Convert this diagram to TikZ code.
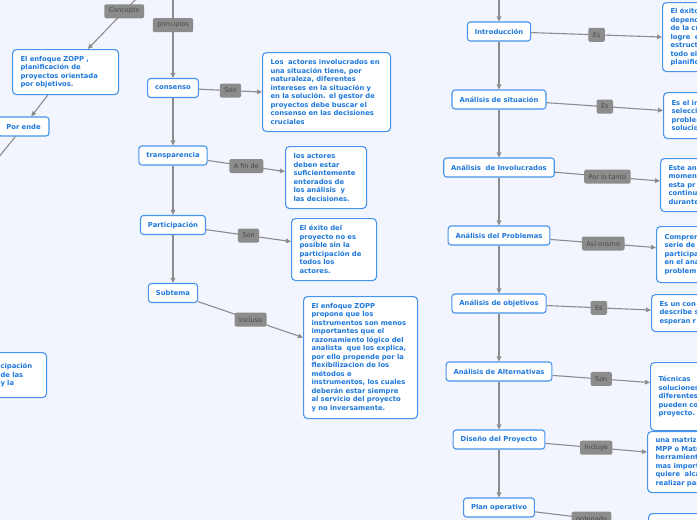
\documentclass[tikz,border=0pt]{standalone}
\usepackage{fontspec}
\setmainfont{DejaVu Sans}
\usepackage{xcolor}
\usetikzlibrary{arrows.meta,positioning}

\definecolor{fondo}{HTML}{F2F5FD}
\definecolor{azul}{HTML}{1E78DC}
\definecolor{borde}{HTML}{4694EC}
\definecolor{gris}{HTML}{8C8C8C}
\definecolor{grisTxt}{HTML}{474747}

\tikzset{
  tema/.style={draw=borde,fill=white,rounded corners=3pt,line width=1.1pt,text=azul,
    font=\bfseries\fontsize{6.8}{8}\selectfont,inner xsep=7.5pt,minimum height=19pt},
  nota/.style={draw=borde,fill=white,rounded corners=4pt,line width=1.1pt,text=azul,
    font=\bfseries\fontsize{6.8}{8.5}\selectfont,align=left,anchor=north west,inner xsep=8pt,inner ysep=3pt},
  etiq/.style={fill=gris,rounded corners=2pt,text=grisTxt,font=\fontsize{6.5}{7}\selectfont,
    inner xsep=4.5pt,inner ysep=0pt,minimum height=14pt},
  enlace/.style={draw=gris,line width=1.1pt,-{Triangle[length=5pt,width=4.5pt]}},
  linea/.style={draw=gris,line width=1.1pt},
}

\begin{document}
\begin{tikzpicture}[x=1pt,y=-1pt]
\useasboundingbox (0,0) rectangle (697,520);
\clip (0,0) rectangle (697,520);
\fill[fondo] (0,0) rectangle (697,520);

% columna izquierda
\node[nota,text width=90pt,minimum height=45pt] (enfoque) at (12,49)
  {El enfoque ZOPP ,\\ planificación de\\ proyectos orientada\\ por objetivos.};
\node[tema,minimum width=51pt] (porende) at (23.5,126.5) {Por ende};
\node[nota,text width=36pt,minimum height=45pt,inner xsep=10pt] (nIzq) at (-10,352)
  {cipación\\ de las\\ y la};

\node[tema] (consenso) at (173,88) {consenso};
\node[tema] (transparencia) at (173,155.5) {transparencia};
\node[tema] (participacion) at (173,225) {Participación};
\node[tema] (subtema) at (173,293) {Subtema};

\node[nota,text width=112pt,minimum height=79pt] (nConsenso) at (262,52)
  {Los\ \ actores involucrados en\\ una situación tiene, por\\ naturaleza, diferentes\\ intereses en la situación y\\ en la solución. el gestor de\\ proyectos debe buscar el\\ consenso en las decisiones\\ cruciales};
\node[nota,text width=65pt,minimum height=62pt] (nTransp) at (285,146)
  {los actores\\ deben estar\\ suficientemente\\ enterados de\\ los análisis\ \ y\\ las decisiones.};
\node[nota,text width=69pt,minimum height=62pt] (nPartic) at (291,218)
  {El éxito del\\ proyecto no es\\ posible sin la\\ participación de\\ todos los\\ actores.};
\node[nota,text width=98pt,minimum height=122pt] (nSubtema) at (303,296)
  {El enfoque ZOPP\\ propone que los\\ instrumentos son menos\\ importantes que el\\ razonamiento lógico del\\ analista\ \ que los explica,\\ por ello propende por la\\ flexibilizacion de los\\ métodos e\\ instrumentos, los cuales\\ deberán estar siempre\\ al servicio del proyecto\\ y no inversamente.};

\coordinate (arribaIzq) at (137,-2);
\coordinate (arribaCen) at (173,-2);
\coordinate (fueraIzq) at (-10,168);

\draw[enlace] (arribaIzq) -- node[etiq,pos=0.26]{Concepto} (enfoque);
\draw[enlace] (enfoque) -- (porende);
\draw[linea] (porende) -- (fueraIzq);
\draw[enlace] (arribaCen) -- node[etiq,pos=0.34]{principios} (consenso);
\draw[enlace] (consenso) -- (transparencia);
\draw[enlace] (transparencia) -- (participacion);
\draw[enlace] (participacion) -- (subtema);
\draw[enlace] (consenso) -- node[etiq]{Son} (nConsenso.west);
\draw[enlace] (transparencia) -- node[etiq]{A fin de} ([yshift=6pt]nTransp.west);
\draw[enlace] (participacion) -- node[etiq]{Son} ([yshift=8pt]nPartic.west);
\draw[enlace] (subtema) -- node[etiq]{Incluso} ([yshift=20pt]nSubtema.west);

% columna derecha
\node[tema] (intro) at (499,31.5) {Introducción};
\node[tema] (situacion) at (499,99.5) {Análisis de situación};
\node[tema] (involucrados) at (499,167.5) {Análisis\ \ de Involucrados};
\node[tema] (problemas) at (499,235.5) {Análisis del Problemas};
\node[tema] (objetivos) at (499,303.5) {Análisis de objetivos};
\node[tema] (alternativas) at (499,371.5) {Análisis de Alternativas};
\node[tema] (diseno) at (499,439.5) {Diseño del Proyecto};
\node[tema] (planop) at (499,507.5) {Plan operativo};

\node[nota,text width=60pt,minimum height=69pt] (nIntro) at (662,2)
  {El éxito\\ depend\\ de la cr\\ logre\ \ e\\ estruct\\ todo el\\ planific};
\node[nota,text width=60pt,minimum height=46pt] (nSituacion) at (663,92)
  {Es el in\\ selecci\\ problem\\ solucio};
\node[nota,text width=60pt,minimum height=53pt] (nInvol) at (660,158)
  {Este an\\ momen\\ esta pr\\ continu\\ durante};
\node[nota,text width=60pt,minimum height=56pt] (nProblemas) at (656,226)
  {Compren\\ serie de\\ participa\\ en el ana\\ problem};
\node[nota,text width=60pt,minimum height=37pt] (nObjetivos) at (651,294)
  {Es un con\\ describe s\\ esperan r};
\node[nota,text width=60pt,minimum height=68pt] (nAltern) at (650,362)
  {Técnicas\\ soluciones\\ diferentes\\ pueden co\\ proyecto.};
\node[nota,text width=60pt,minimum height=61pt] (nDiseno) at (647,431)
  {una matriz\\ MPP o Matr\\ herramient\\ mas import\\ quiere\ \ alca\\ realizar par};
\node[nota,text width=60pt,minimum height=40pt] (nPlan) at (648,513) {};

\coordinate (arribaDer) at (499,-2);
\draw[enlace] (arribaDer) -- (intro);
\draw[enlace] (intro) -- (situacion);
\draw[enlace] (situacion) -- (involucrados);
\draw[enlace] (involucrados) -- (problemas);
\draw[enlace] (problemas) -- (objetivos);
\draw[enlace] (objetivos) -- (alternativas);
\draw[enlace] (alternativas) -- (diseno);
\draw[enlace] (diseno) -- (planop);

\draw[enlace] (intro) -- node[etiq]{Es} (nIntro.west);
\draw[enlace] (situacion) -- node[etiq]{Es} ([yshift=5pt]nSituacion.west);
\draw[enlace] (involucrados) -- node[etiq]{Por lo tanto} ([yshift=4pt]nInvol.west);
\draw[enlace] (problemas) -- node[etiq]{Así mismo} ([yshift=7pt]nProblemas.west);
\draw[enlace] (objetivos) -- node[etiq]{Es} ([yshift=3pt]nObjetivos.west);
\draw[enlace] (alternativas) -- node[etiq]{Son} ([yshift=14pt]nAltern.west);
\draw[enlace] (diseno) -- node[etiq]{Incluye} ([yshift=10pt]nDiseno.west);
\draw[enlace] (planop) -- node[etiq]{ordenado} ([yshift=8pt]nPlan.west);
\end{tikzpicture}
\end{document}
